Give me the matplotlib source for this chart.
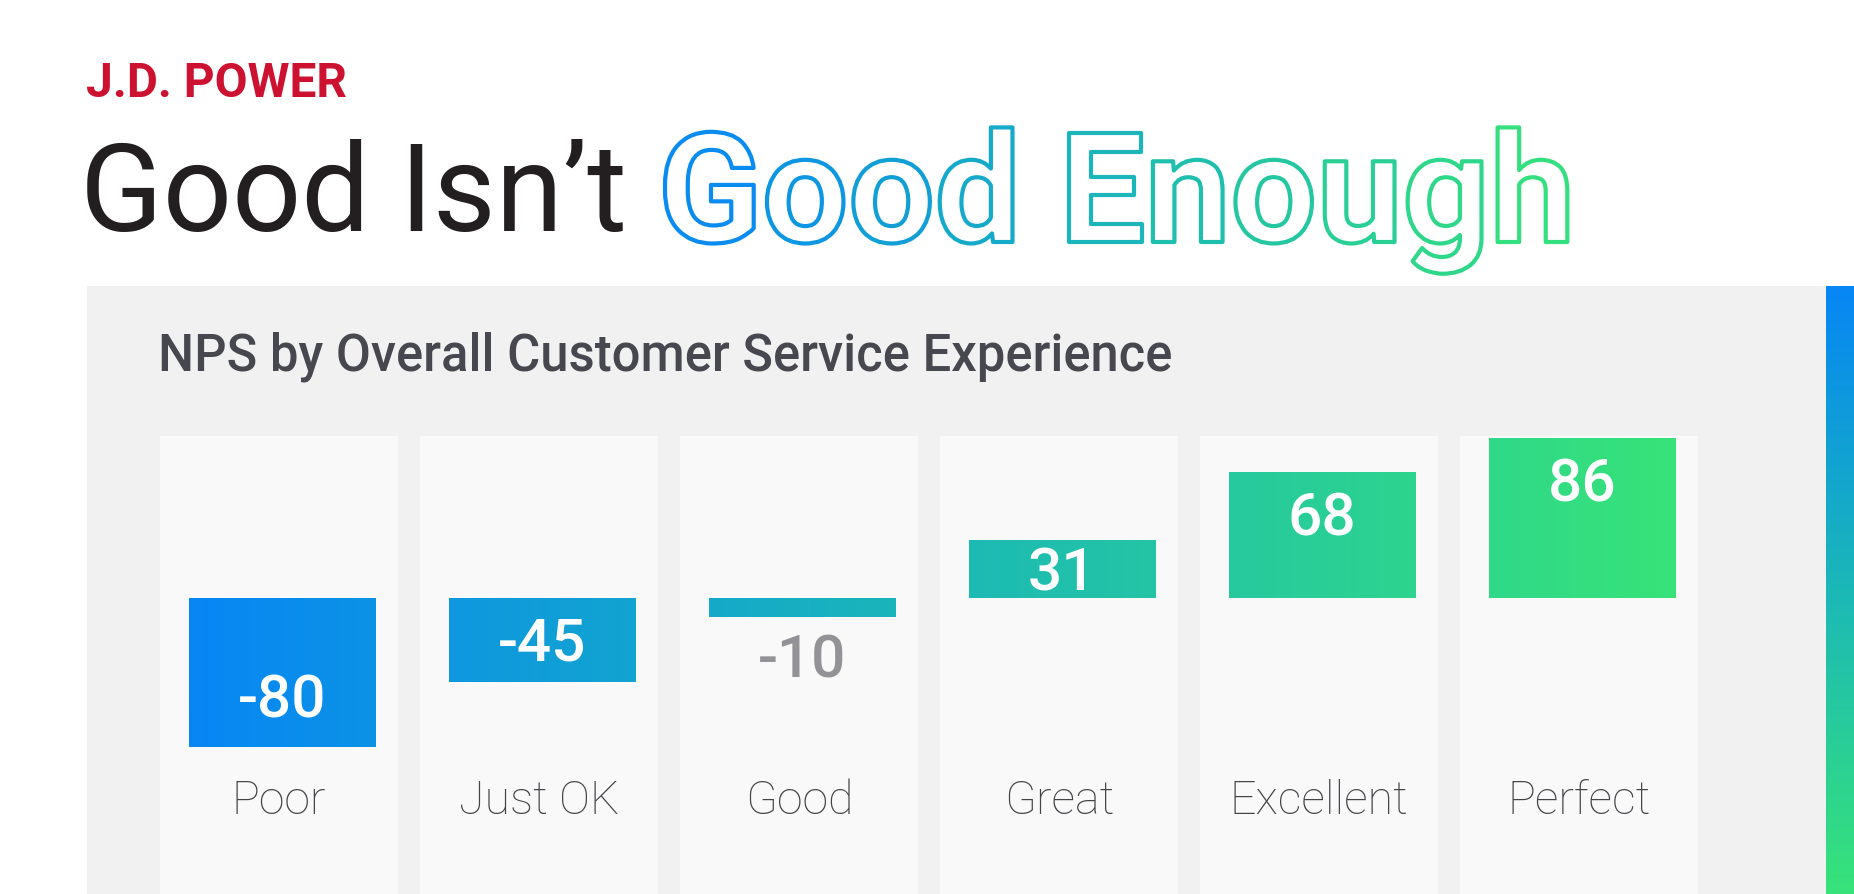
import numpy as np
import matplotlib
matplotlib.use("Agg")
import matplotlib.pyplot as plt
from matplotlib.colors import LinearSegmentedColormap
from matplotlib.patches import Rectangle
from matplotlib import patheffects
from matplotlib.font_manager import FontProperties, findfont, get_font
from matplotlib.textpath import TextToPath

# data
categories = ["Poor", "Just OK", "Good", "Great", "Excellent", "Perfect"]
nps = [-80, -45, -10, 31, 68, 86]
value_labels = ["-80", "-45", "-10", "31", "68", "86"]

brand = "J.D. POWER"
headline_plain = "Good Isn\u2019t"
headline_outline = "Good Enough"
subtitle = "NPS by Overall Customer Service Experience"

W, H, DPI = 1854, 894, 100
FONT = "Roboto"
grad_cmap = LinearSegmentedColormap.from_list("jdp", ["#0786F5", "#1BB8B7", "#37E379"])

fig = plt.figure(figsize=(W / DPI, H / DPI), dpi=DPI, facecolor="white")

# background layer, pixel coordinates with y going down
bg = fig.add_axes([0, 0, 1, 1], zorder=0)
bg.add_patch(Rectangle((87, 286), 1826 - 87, H - 286, color="#F1F1F1", lw=0))
bg.imshow(np.linspace(0, 1, 256).reshape(-1, 1), cmap=grad_cmap,
          extent=[1826, W, H, 286], aspect="auto")
bg.set_xlim(0, W)
bg.set_ylim(H, 0)
bg.axis("off")

bg.text(86, 97, brand, family=FONT, fontsize=34.5, fontweight="bold",
        color="#CC1230", ha="left", va="baseline")
bg.text(80, 231, headline_plain, family=FONT, fontsize=87.5,
        color="#231F20", ha="left", va="baseline")

# outlined headline, one character at a time so the stroke follows the gradient
out_size = 110
prop = FontProperties(family=FONT, weight="bold", size=out_size)
font = get_font(findfont(prop))
font.set_size(100, 72)
glyphs, _, _ = TextToPath().get_glyphs_with_font(font, headline_outline)
px_per_unit = out_size / 100 * DPI / 72
xs = [g[1] * px_per_unit for g in glyphs]
x0 = 658
span = xs[-1] + 0.6 * out_size * DPI / 72
for ch, xo in zip(headline_outline, xs):
    if ch == " ":
        continue
    c = grad_cmap(min(1.0, (xo + 0.3 * out_size * DPI / 72) / span))
    bg.text(x0 + xo, 242, ch, fontproperties=prop, color="white",
            ha="left", va="baseline",
            path_effects=[patheffects.Stroke(linewidth=3.0, foreground=c)])

bg.text(158, 371, subtitle, family=FONT, fontsize=36.5, fontweight="medium",
        color="#47474F", ha="left", va="baseline")

# chart
zero_px, px_per = 598, 1.86
ax = fig.add_axes([160 / W, 0, 1538 / W, 458 / H], zorder=1)
ax.patch.set_alpha(0)
x = np.arange(len(categories))
xlim = (-119 / 260, len(categories) - 1 + 119 / 260)
ylim = (-(H - zero_px) / px_per, (zero_px - 436) / px_per)

ax.bar(x, ylim[1] - ylim[0], bottom=ylim[0], width=238 / 260, color="#F9F9F9", zorder=1)
bx = x + 3 / 260
bars = ax.bar(bx, nps, width=187 / 260, color="none", zorder=2)

gx0 = bars[0].get_x()
gx1 = bars[-1].get_x() + bars[-1].get_width()
for b in bars:
    im = ax.imshow(np.linspace(0, 1, 512).reshape(1, -1), cmap=grad_cmap,
                   extent=[gx0, gx1, ylim[0], ylim[1]], aspect="auto", zorder=2)
    im.set_clip_path(b)

for xi, v, lbl in zip(bx, nps, value_labels):
    color = "white"
    if abs(v) < 20:
        xy, off, color = (xi, v), -44, "#939397"
    elif abs(v) < 50:
        xy, off = (xi, v / 2), -15
    elif v < 0:
        xy, off = (xi, v), 21
    else:
        xy, off = (xi, v), -46
    ax.annotate(lbl, xy, xytext=(0, off), textcoords="offset points",
                ha="center", va="baseline", family=FONT, fontsize=43.5,
                fontweight="medium", color=color, zorder=3)

for xi, cat in zip(x, categories):
    ax.text(xi, 80 / 458, cat, transform=ax.get_xaxis_transform(),
            ha="center", va="baseline", family=FONT, fontsize=33.5,
            fontweight="light", color="#434348", zorder=3)

ax.set_xlim(*xlim)
ax.set_ylim(*ylim)
ax.axis("off")

fig.savefig("out.png", dpi=DPI, facecolor="white")
